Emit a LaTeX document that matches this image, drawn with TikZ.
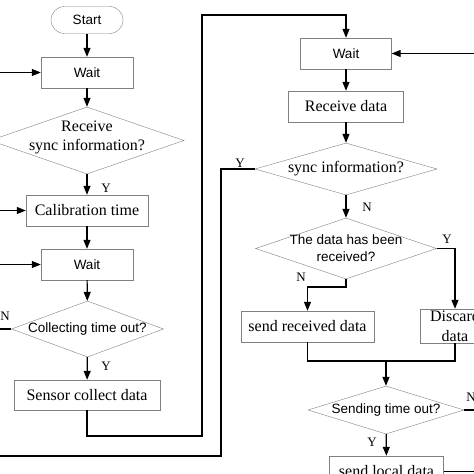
\documentclass[tikz,border=0pt]{standalone}
\usepackage{fontspec}
\setmainfont{Liberation Serif}
\setsansfont{Liberation Sans}
\usetikzlibrary{shapes.geometric,arrows.meta}

\begin{document}
\begin{tikzpicture}[x=1pt,y=-1pt,
    >={Triangle[length=9pt,width=7pt]},
    box/.style={draw=gray,thin,minimum height=31pt,inner sep=0pt,align=center,
        font=\fontsize{16}{20}\selectfont},
    sbox/.style={box,font=\fontsize{13.5}{17}\sffamily},
    decision/.style={diamond,draw=gray,thin,inner sep=0pt},
    dtext/.style={align=center,font=\fontsize{16}{19}\selectfont},
    sdtext/.style={align=center,font=\fontsize{13.5}{17}\sffamily},
    yn/.style={font=\fontsize{13}{15}\selectfont}]
    \useasboundingbox (0,0) rectangle (474,474);
    \clip (0,0) rectangle (474,474);

    % sensor side
    \node[sbox,rounded corners=13.5pt,minimum width=72pt,minimum height=27pt] (start) at (87,20) {Start};
    \node[sbox,minimum width=92pt] (wait1) at (87,72.5) {Wait};
    \node[decision,minimum width=194pt,minimum height=67pt,
        label={[dtext,yshift=3pt]center:{Receive\\sync information?}}] (sync1) at (87,140.5) {};
    \node[box,minimum width=122pt] (calib) at (87,210.5) {Calibration time};
    \node[sbox,minimum width=92pt] (wait2) at (87,264.5) {Wait};
    \node[decision,minimum width=152pt,minimum height=56pt,
        label={[sdtext]center:{Collecting time out?}}] (collect) at (87.5,329) {};
    \node[box,minimum width=146pt,minimum height=30pt] (sensor) at (87,395) {Sensor collect data};

    % receiver side
    \node[sbox,minimum width=91pt] (wait3) at (346,53.5) {Wait};
    \node[box,minimum width=115pt] (recv) at (346,106.5) {Receive data};
    \node[decision,minimum width=182pt,minimum height=52pt,
        label={[dtext]center:{sync information?}}] (sync2) at (346,169) {};
    \node[decision,minimum width=181pt,minimum height=61pt,
        label={[sdtext]center:{The data has been\\received?}}] (received) at (346,248.5) {};
    \node[box,minimum width=133pt] (sendrecv) at (307.5,326.5) {send received data};
    \node[box,minimum width=70pt,minimum height=34pt] (discard) at (455,326) {Discard\\data};
    \node[decision,minimum width=156pt,minimum height=48pt,
        label={[sdtext]center:{Sending time out?}}] (sendtime) at (386,410) {};
    \node[box,minimum width=114pt] (sendlocal) at (386.5,471.5) {send local data};

    % Y/N labels
    \node[yn] (y1) at (106,188) {Y};
    \node[yn] (y2) at (106,366) {Y};
    \node[yn] (n1) at (5,316) {N};
    \node[yn] (y3) at (240,163) {Y};
    \node[yn] (n2) at (367,207) {N};
    \node[yn] (y4) at (447,239) {Y};
    \node[yn] (n3) at (301,277) {N};
    \node[yn] (n4) at (471,397) {N};
    \node[yn] (y5) at (372,442) {Y};

    % loose ends and corners
    \coordinate (inL1) at (-10,72.5);
    \coordinate (inL2) at (-10,210.5);
    \coordinate (inL3) at (-10,264.5);
    \coordinate (outL1) at (-10,329);
    \coordinate (outL2) at (-10,456);
    \coordinate (c1) at (202,436);
    \coordinate (c2) at (202,15);
    \coordinate (c3) at (221,456);
    \coordinate (r1) at (346,287);
    \coordinate (m) at (386,361);
    \coordinate (inR) at (484,53.5);
    \coordinate (outR1) at (484,410);
    \coordinate (outR2) at (484,471.5);

    \path[->,line width=1.2pt]
        (start) edge (wait1)
        (wait1) edge (sync1)
        (sync1) edge (calib)
        (calib) edge (wait2)
        (wait2) edge (collect)
        (collect) edge (sensor)
        (inL1) edge (wait1)
        (inL2) edge (calib)
        (inL3) edge (wait2)
        (wait3) edge (recv)
        (recv) edge (sync2)
        (sync2) edge (received)
        (m) edge (sendtime)
        (sendtime) edge (sendlocal)
        (inR) edge (wait3);

    \draw[line width=1.2pt] (collect.west) -- (outL1);
    \draw[->,line width=1.2pt] (sensor) |- (c1) -- (c2) -| (wait3);
    \draw[line width=1.2pt] (sync2.west) -| (c3) -- (outL2);
    \draw[->,line width=1.2pt] (received.east) -| (discard);
    \draw[->,line width=1.2pt] (received) -- (r1) -| (sendrecv);
    \draw[line width=1.2pt] (sendrecv) |- (m) -| (discard);
    \draw[line width=1.2pt] (sendtime.east) -- (outR1);
    \draw[line width=1.2pt] (sendlocal.east) -- (outR2);
\end{tikzpicture}
\end{document}
